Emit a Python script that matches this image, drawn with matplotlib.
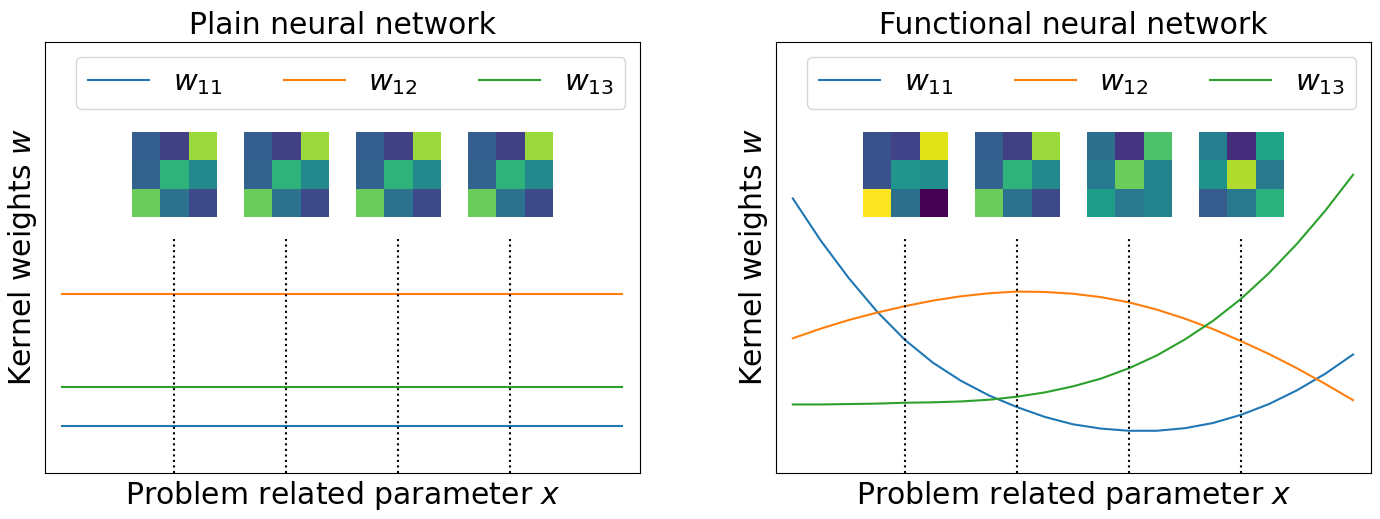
import numpy as np
import matplotlib
matplotlib.use("Agg")
import matplotlib.pyplot as plt

# ---------------- data ----------------
x = [0.00, 0.05, 0.10, 0.15, 0.20, 0.25, 0.30, 0.35, 0.40, 0.45, 0.50,
     0.55, 0.60, 0.65, 0.70, 0.75, 0.80, 0.85, 0.90, 0.95, 1.00]

# plain network: constant weights
plain_w11 = 0.110
plain_w12 = 0.415
plain_w13 = 0.199

# functional network: weights vary with x
func_w11 = [0.637, 0.539, 0.452, 0.375, 0.309, 0.256, 0.214, 0.180, 0.153, 0.130, 0.113,
            0.103, 0.098, 0.098, 0.104, 0.116, 0.135, 0.160, 0.192, 0.230, 0.275]
func_w12 = [0.3125, 0.335, 0.355, 0.372, 0.387, 0.400, 0.410, 0.417, 0.421, 0.420, 0.416,
            0.408, 0.396, 0.379, 0.358, 0.334, 0.306, 0.276, 0.243, 0.207, 0.169]
func_w13 = [0.159, 0.159, 0.160, 0.161, 0.163, 0.164, 0.166, 0.170, 0.177, 0.187, 0.201,
            0.219, 0.243, 0.273, 0.310, 0.353, 0.404, 0.464, 0.532, 0.608, 0.692]

sample_x = [0.2, 0.4, 0.6, 0.8]

kernel_plain = [[0.30, 0.19, 0.85],
                [0.32, 0.65, 0.47],
                [0.77, 0.38, 0.22]]

kernels_func = [
    [[0.25, 0.20, 0.95],
     [0.25, 0.52, 0.49],
     [1.00, 0.37, 0.00]],
    [[0.30, 0.19, 0.85],
     [0.32, 0.65, 0.47],
     [0.77, 0.38, 0.22]],
    [[0.37, 0.15, 0.72],
     [0.41, 0.77, 0.45],
     [0.56, 0.40, 0.45]],
    [[0.43, 0.13, 0.58],
     [0.51, 0.88, 0.40],
     [0.29, 0.40, 0.64]],
]

labels = ["$w_{11}$", "$w_{12}$", "$w_{13}$"]
titles = ["Plain neural network", "Functional neural network"]
colors = ["#1f77b4", "#ff7f0e", "#2ca02c"]

# ---------------- figure ----------------
fig = plt.figure(figsize=(13.8, 5.19), dpi=100)
ax1 = fig.add_axes([45/1380, 46/519, 595/1380, 431/519])
ax2 = fig.add_axes([776/1380, 46/519, 595/1380, 431/519])

xs = np.array(x)
ax1.plot(xs, np.full_like(xs, plain_w11), color=colors[0], lw=1.5, label=labels[0])
ax1.plot(xs, np.full_like(xs, plain_w12), color=colors[1], lw=1.5, label=labels[1])
ax1.plot(xs, np.full_like(xs, plain_w13), color=colors[2], lw=1.5, label=labels[2])

ax2.plot(xs, func_w11, color=colors[0], lw=1.5, label=labels[0])
ax2.plot(xs, func_w12, color=colors[1], lw=1.5, label=labels[1])
ax2.plot(xs, func_w13, color=colors[2], lw=1.5, label=labels[2])

half_w = 0.075
img_y0, img_y1 = 0.594, 0.790
for ax, kernels in ((ax1, [kernel_plain] * 4), (ax2, kernels_func)):
    for sx, k in zip(sample_x, kernels):
        ax.vlines(sx, 0, 0.55, colors="black", linestyles=":", lw=1.5)
        ax.imshow(np.array(k), cmap="viridis", vmin=0, vmax=1,
                  extent=[sx - half_w, sx + half_w, img_y0, img_y1],
                  aspect="auto", interpolation="nearest", zorder=3)

for ax, t in zip((ax1, ax2), titles):
    ax.set_xlim(-0.03, 1.032)
    ax.set_ylim(0, 1)
    ax.set_xticks([])
    ax.set_yticks([])
    ax.set_title(t, fontsize=21.5)
    ax.set_xlabel("Problem related parameter $x$", fontsize=21.5)
    ax.set_ylabel("Kernel weights $w$", fontsize=21.5)
    ax.legend(loc="upper right", ncol=3, fontsize=21, handlelength=2.1,
              columnspacing=2.1)

fig.savefig("out.png", dpi=100)
